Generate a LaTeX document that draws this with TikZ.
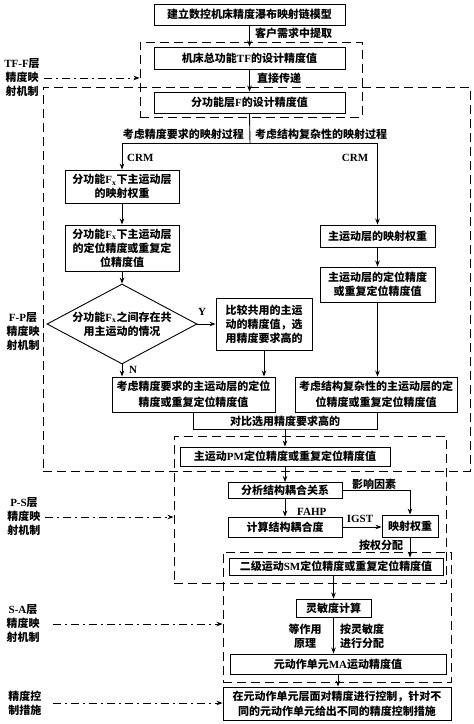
\documentclass[tikz,border=0pt]{standalone}
\usepackage{fontspec}
\setmainfont{Noto Sans CJK SC}
\newfontfamily\latfont{Liberation Serif}
\newcommand\LT[1]{{\latfont\bfseries #1}}
\newcommand\Fx{\LT{F}\textsubscript{\LT{x}}}
\usetikzlibrary{shapes.geometric,arrows.meta,calc}
\begin{document}
\begin{tikzpicture}[x=1pt,y=-1pt,
 box/.style={draw,line width=0.9pt,fill=white,inner sep=0pt,align=center,font=\fontsize{11}{14}\selectfont\bfseries},
 lbl/.style={inner sep=0pt,align=center,font=\fontsize{11}{14}\selectfont\bfseries},
 dbox/.style={draw,line width=0.9pt,dash pattern=on 9pt off 5pt,inner sep=0pt},
 arr/.style={line width=0.9pt,-{Stealth[length=6pt,width=4.5pt]}},
 ln/.style={line width=0.9pt},
 dd/.style={line width=0.9pt,dash pattern=on 8pt off 4pt on 2pt off 4pt,-{Stealth[length=6pt,width=4.5pt]}}]
\useasboundingbox (0,0) rectangle (474,724);
% dashed regions
\node[dbox,minimum width=222pt,minimum height=75pt] (D1) at (251,79.5) {};
\node[dbox,minimum width=427pt,minimum height=384pt] (D2) at (256.5,279) {};
\node[dbox,minimum width=272pt,minimum height=147pt] (D3) at (310,509.5) {};
\node[dbox,minimum width=228pt,minimum height=130pt] (D4) at (337,617) {};
% boxes
\node[box,minimum width=191pt,minimum height=21pt] (top) at (249.5,14.5) {建立数控机床精度瀑布映射链模型};
\node[box,minimum width=191pt,minimum height=22pt] (tf) at (249.5,58) {机床总功能\LT{TF}的设计精度值};
\node[box,minimum width=191pt,minimum height=21pt] (f) at (249.5,102.5) {分功能层\LT{F}的设计精度值};
\node[box,minimum width=114pt,minimum height=33pt] (l1) at (122,186.5) {分功能\Fx 下主运动层\\的映射权重};
\node[box,minimum width=114pt,minimum height=46pt] (l2) at (122,248) {分功能\Fx 下主运动层\\的定位精度或重复定\\位精度值};
\node[draw,diamond,line width=0.9pt,fill=white,minimum width=150pt,minimum height=80pt,inner sep=0pt] (d) at (122,324) {};
\node[lbl] (dt) at (d.center) {分功能\Fx 之间存在共\\用主运动的情况};
\node[box,minimum width=96pt,minimum height=52pt] (mid) at (264,324) {比较共用的主运\\动的精度值，选\\用精度要求高的};
\node[box,minimum width=115pt,minimum height=22pt] (r1) at (377.5,236) {主运动层的映射权重};
\node[box,minimum width=115pt,minimum height=35pt] (r2) at (377.5,284.5) {主运动层的定位精度\\或重复定位精度值};
\node[box,minimum width=163pt,minimum height=35pt,font=\fontsize{11}{16}\selectfont\bfseries] (l3) at (193.5,394.5) {考虑精度要求的主运动层的定位\\精度或重复定位精度值};
\node[box,minimum width=162pt,minimum height=35pt,font=\fontsize{11}{16}\selectfont\bfseries] (r3) at (376,394.5) {考虑结构复杂性的主运动层的定\\位精度或重复定位精度值};
\node[box,minimum width=210pt,minimum height=19pt] (pm) at (285,456.5) {主运动\LT{PM}定位精度或重复定位精度值};
\node[box,minimum width=114pt,minimum height=16pt] (an) at (285,490.5) {分析结构耦合关系};
\node[box,minimum width=114pt,minimum height=20pt] (js) at (285,527) {计算结构耦合度};
\node[box,minimum width=56pt,minimum height=22pt] (wt) at (410,526) {映射权重};
\node[box,minimum width=214pt,minimum height=17pt] (sm) at (336,566.5) {二级运动\LT{SM}定位精度或重复定位精度值};
\node[box,minimum width=75pt,minimum height=18pt] (lm) at (333.5,608) {灵敏度计算};
\node[box,minimum width=216pt,minimum height=20pt] (ma) at (338,664) {元动作单元\LT{MA}运动精度值};
\node[box,minimum width=228pt,minimum height=33pt,font=\fontsize{11}{15}\selectfont\bfseries] (fin) at (337,703.5) {在元动作单元层面对精度进行控制，针对不\\同的元动作单元给出不同的精度控制措施};
% side labels
\node[lbl] (Ltf) at (22,78) {\LT{TF-F}层\\精度映\\射机制};
\node[lbl] (Lfp) at (23,332) {\LT{F-P}层\\精度映\\射机制};
\node[lbl] (Lps) at (24,517) {\LT{P-S}层\\精度映\\射机制};
\node[lbl] (Lsa) at (23,624) {\LT{S-A}层\\精度映\\射机制};
\node[lbl] (Lctl) at (25,703) {精度控\\制措施};
\draw[dd] ([xshift=4pt]Ltf.east) -- (Ltf.east -| D1.west);
\draw[dd] ([xshift=4pt]Lps.east) -- (Lps.east -| D3.west);
\draw[dd] ([xshift=13pt]Lsa.east) -- (Lsa.east -| D4.west);
\draw[dd] ([xshift=11pt]Lctl.east) -- (Lctl.east -| fin.west);
% connectors
\draw[arr] (top) -- (tf);
\node[lbl,anchor=west] (t1) at (255,33) {客户需求中提取};
\draw[arr] (tf) -- (f);
\node[lbl,anchor=west] (t2) at (257,78) {直接传递};
\coordinate (br) at (250,143);
\draw[ln] (f.south) -- (br);
\draw[arr] (br) -| (l1.north);
\draw[arr] (br) -| (r1.north);
\node[lbl,anchor=east] (k1) at (244,134) {考虑精度要求的映射过程};
\node[lbl,anchor=west] (k2) at (255,134) {考虑结构复杂性的映射过程};
\node[lbl,anchor=west] (c1) at (127,158) {\LT{CRM}};
\node[lbl] (c2) at (355,158) {\LT{CRM}};
\draw[arr] (l1) -- (l2);
\draw[arr] (l2.south) -- (d.north);
\draw[arr] (d.east) -- (mid.west);
\node[lbl] (ty) at (202,312) {\LT{Y}};
\draw[arr] (d.south) -- (d.south |- l3.north);
\node[lbl] (tn) at (133,370) {\LT{N}};
\draw[arr] (mid.south) -- (mid.south |- l3.north);
\draw[arr] (r1) -- (r2);
\draw[arr] (r2.south) -- (r2.south |- r3.north);
\coordinate (m) at (285,429);
\draw[ln] (l3.south) |- (m) -| (r2.south |- r3.south);
\node[lbl] (cmp) at (285,421) {对比选用精度要求高的};
\draw[arr] (m) -- (pm.north);
\draw[arr] (pm) -- (an);
\draw[arr] (an) -- (js);
\node[lbl,anchor=west] (fahp) at (297,512) {\LT{FAHP}};
\draw[arr] (an.east) -| (wt.north);
\node[lbl] (yx) at (374,484) {影响因素};
\draw[arr] (js.east) -- (js.east -| wt.west);
\node[lbl] (igst) at (360,519) {\LT{IGST}};
\draw[arr] (wt.south) -- (wt.south |- sm.north);
\node[lbl] (aq) at (381,545) {按权分配};
\draw[arr] (lm.north |- sm.south) -- (lm.north);
\draw[arr] (lm.south) -- (lm.south |- ma.north);
\node[lbl] (dz) at (305,636) {等作用\\原理};
\node[lbl] (al) at (362,636) {按灵敏度\\进行分配};
\draw[arr] (ma.south) -- (ma.south |- fin.north);
\end{tikzpicture}
\end{document}
